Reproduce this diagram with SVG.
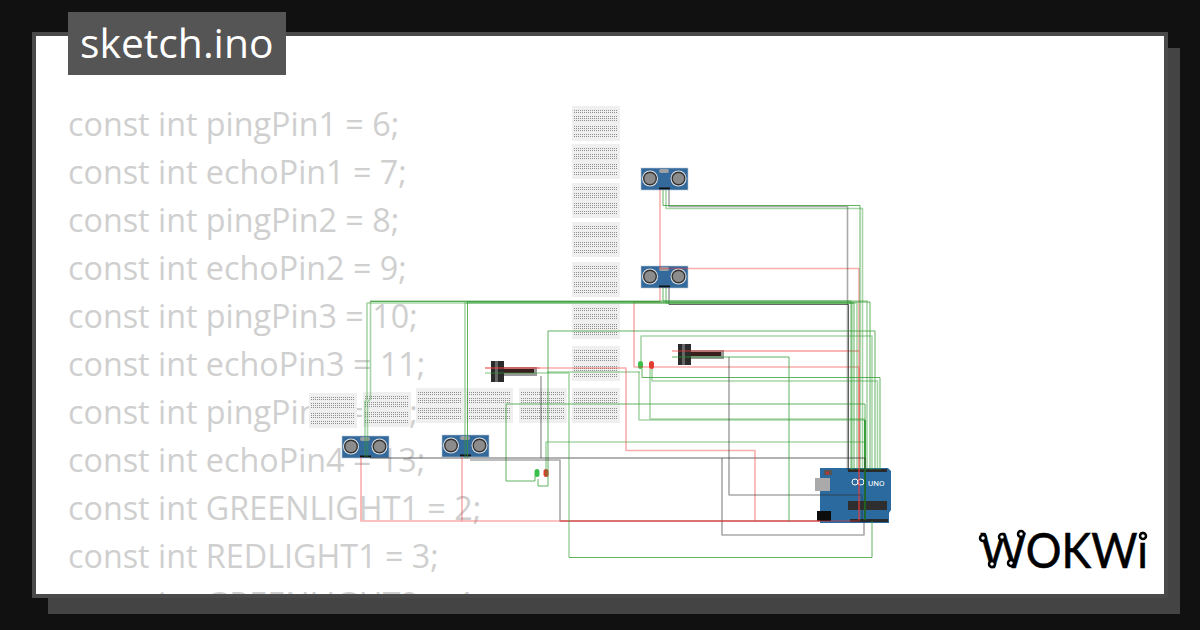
<svg xmlns="http://www.w3.org/2000/svg" width="1200" height="630" viewBox="0 0 1200 630">
<style>
.code{font-family:"Open Sans","Liberation Sans",sans-serif;font-size:32.3px;fill:#cfcfcf}
.w{fill:none;stroke-width:1;stroke-linejoin:round;opacity:.75}
.g{stroke:#2f9a2f}.r{stroke:#f03c3c}.k{stroke:#333}
.t{stroke-width:1.6;opacity:.42}
.bb{fill:#efefef}.holes{fill:url(#holes)}
.pcb{fill:#34699c;stroke:#b9c9d6;stroke-width:.6}
.eye{fill:#8c8c8c;stroke:#333;stroke-width:1.4}
</style>
<defs>
<pattern id="holes" width="2" height="2" patternUnits="userSpaceOnUse"><rect width="2" height="2" fill="#efefef"/><rect width="1" height="1" fill="#8f8f8f"/></pattern>
<symbol id="board" width="48" height="35" overflow="visible">
<rect class="bb" width="48" height="35"/><rect class="holes" x="2" y="3" width="44" height="5"/><rect class="holes" x="2" y="10" width="44" height="5"/><rect class="holes" x="2" y="20" width="44" height="5"/><rect class="holes" x="2" y="27" width="44" height="5"/>
</symbol>
<symbol id="sonar" width="47" height="22" overflow="visible">
<rect class="pcb" width="47" height="22"/>
<rect x="18" y="1" width="10" height="4" rx="2" fill="#9aa0a6"/>
<circle cx="9" cy="10.500" r="8" fill="#dfe3e6"/><circle class="eye" cx="9" cy="10.500" r="6.300"/>
<circle cx="37.500" cy="10.500" r="8" fill="#dfe3e6"/><circle class="eye" cx="37.500" cy="10.500" r="6.300"/>
<rect x="18" y="19.500" width="11" height="1.800" fill="#111"/>
</symbol>
<symbol id="slider" width="46" height="21" overflow="visible">
<rect y="6" width="46" height="9" fill="#999"/><rect x="4" y="8" width="39" height="4" fill="#3a1d1d"/>
<rect width="13" height="21" fill="#2b2b2b"/><rect x="4" width="3" height="21" fill="#666"/>
</symbol>
</defs>
<rect width="1200" height="630" fill="#111"/>
<rect x="48" y="48" width="1132" height="566" fill="#444"/>
<rect x="34" y="34" width="1132" height="562" fill="#fff" stroke="#4a4a4a" stroke-width="4"/>
<svg x="36" y="36" width="1128" height="558" viewBox="36 36 1128 558">
<g class="code">
<text x="68" y="136">const int pingPin1 = 6;</text>
<text x="68" y="184">const int echoPin1 = 7;</text>
<text x="68" y="232">const int pingPin2 = 8;</text>
<text x="68" y="280">const int echoPin2 = 9;</text>
<text x="68" y="328">const int pingPin3 = 10;</text>
<text x="68" y="376">const int echoPin3 = 11;</text>
<text x="68" y="424">const int pingPin4 = 12;</text>
<text x="68" y="472">const int echoPin4 = 13;</text>
<text x="68" y="520">const int GREENLIGHT1 = 2;</text>
<text x="68" y="568">const int REDLIGHT1 = 3;</text>
<text x="68" y="616">const int GREENLIGHT2 = 4;</text>
</g>
</svg>
<g id="breadboards">
<use href="#board" x="572" y="106"/><use href="#board" x="572" y="144"/><use href="#board" x="572" y="183"/><use href="#board" x="572" y="222"/><use href="#board" x="572" y="262"/><use href="#board" x="572" y="304"/><use href="#board" x="572" y="346"/>
<use href="#board" x="572" y="388"/><use href="#board" x="519" y="388"/><use href="#board" x="465" y="388"/><use href="#board" x="416" y="388"/><use href="#board" x="363" y="392"/><use href="#board" x="309" y="393"/>
</g>
<g id="sensor1"><use href="#sonar" x="641" y="168"/></g>
<g id="sensor2"><use href="#sonar" x="641" y="266"/></g>
<g id="sensor3"><use href="#sonar" x="342" y="436"/></g>
<g id="sensor4"><use href="#sonar" x="442" y="435"/></g>
<g id="slider1"><use href="#slider" x="491" y="361"/></g>
<g id="slider2"><use href="#slider" x="678" y="344"/></g>
<g id="led-green1"><rect x="534.500" y="469" width="5" height="8" rx="2.500" fill="#3cc04c"/></g>
<g id="led-red1"><rect x="543.500" y="469" width="5" height="8" rx="2.500" fill="#e03c30"/></g>
<g id="led-green2"><rect x="638" y="361" width="5" height="8" rx="2.500" fill="#3cc04c"/></g>
<g id="led-red2"><rect x="649" y="361" width="5" height="8" rx="2.500" fill="#e03c30"/></g>
<g id="arduino">
<path d="M820 468H888L891 471V510L889 513V523H820Z" fill="#2a6a9e"/>
<rect x="815" y="478" width="15" height="13" fill="#aaa"/>
<rect x="817" y="511" width="14" height="10" fill="#0c0c0c"/>
<rect x="848" y="469" width="39" height="3" fill="#2a2a2a"/>
<rect x="850" y="519" width="38" height="3" fill="#2a2a2a"/>
<rect x="848" y="501" width="39" height="9" fill="#2e2e2e"/>
<rect x="824" y="470" width="8" height="5" fill="#555"/><rect x="826" y="471.500" width="3" height="3" fill="#b33"/>
<circle cx="855" cy="482" r="3" fill="none" stroke="#fff"/><circle cx="861" cy="482" r="3" fill="none" stroke="#fff"/>
<text x="868" y="486" font-family="Roboto,'Liberation Sans',sans-serif" font-size="8" fill="#fff">UNO</text>
</g>
<g id="connectors">
<path class="w r t" d="M660 190V268.500H859V351"/>
<path class="w k t" d="M669 190V206.500H847.500V470"/>
<path class="w g" d="M663 190V205.500H860V470"/>
<path class="w g t" d="M666 190V208.500H862.500V470"/>
<path class="w r t" d="M660 288V302H634V367H859V520"/>
<path class="w r" d="M672 351H859V520"/>
<path class="w k" d="M669 288V304.500H848.500V470"/>
<path class="w g" d="M663 288V301H851V470"/>
<path class="w g" d="M666 288V303H854V470"/>
<path class="w g t" d="M365 457V402L367 399V303H857V470"/>
<path class="w g t" d="M367.500 457V402L370.500 399V301H867V470"/>
<path class="w g" d="M370.500 301.500H660"/>
<path class="w g t" d="M465 458V303H852V470"/>
<path class="w g" d="M467.500 458V302H870V470"/>
<path class="w g" d="M538 479V486H548V331H875V470"/>
<path class="w g t" d="M641 361V336H872V470"/>
<path class="w g t" d="M547 372H640"/>
<path class="w g" d="M642 369V377.500H880V470"/>
<path class="w g t" d="M652 369V381H877.500V470"/>
<path class="w g t" d="M650 369V419H865"/>
<path class="w g t" d="M639 372V420H865"/>
<path class="w g" d="M865 404V520"/>
<path d="M865 420V520" fill="none" stroke="#108a10" stroke-width="1.500"/>
<path class="w g" d="M535 476V481H506V404H865"/>
<path class="w g t" d="M546 476V442H865"/>
<path class="w k" d="M370 458H865V520"/>
<path class="w k t" d="M722 458V535H864V520"/>
<path class="w k t" d="M541 376V458"/>
<path class="w k t" d="M470 460H560V521H820"/>
<path class="w r t" d="M361 457V521H462"/>
<path class="w r t" d="M462 457V521H860"/>
<path class="w r" d="M560 521H820"/>
<path class="w r t" d="M485 368H626V450.500H755V521"/>
<path class="w g t" d="M485 373H569V557.500"/>
<path class="w g" d="M569 557.500H872V521"/>
<path class="w k t" d="M729 357V495H862V521"/>
<path class="w g" d="M672 357H789V521"/>
<path class="w r t" d="M485 368H540"/>
</g>
<g id="title"><rect x="68" y="12" width="218" height="63" fill="#555"/>
<text x="80" y="58" font-family="Open Sans,'Liberation Sans',sans-serif" font-size="40.800" fill="#fff">sketch.ino</text></g>
<g id="logo">
<text x="980" y="568" font-family="Lato,'DejaVu Sans',sans-serif" font-size="48" textLength="168" lengthAdjust="spacingAndGlyphs" fill="#000" stroke="#000" stroke-width=".6">WOKWi</text>
<g fill="#fff" stroke="#000" stroke-width="2.500"><circle cx="983" cy="538" r="3"/><circle cx="1002" cy="537" r="3"/><circle cx="1021" cy="534" r="3"/><circle cx="992" cy="564" r="3"/><circle cx="1011" cy="563" r="3"/><circle cx="1143" cy="536" r="3"/></g>
</g>
</svg>
